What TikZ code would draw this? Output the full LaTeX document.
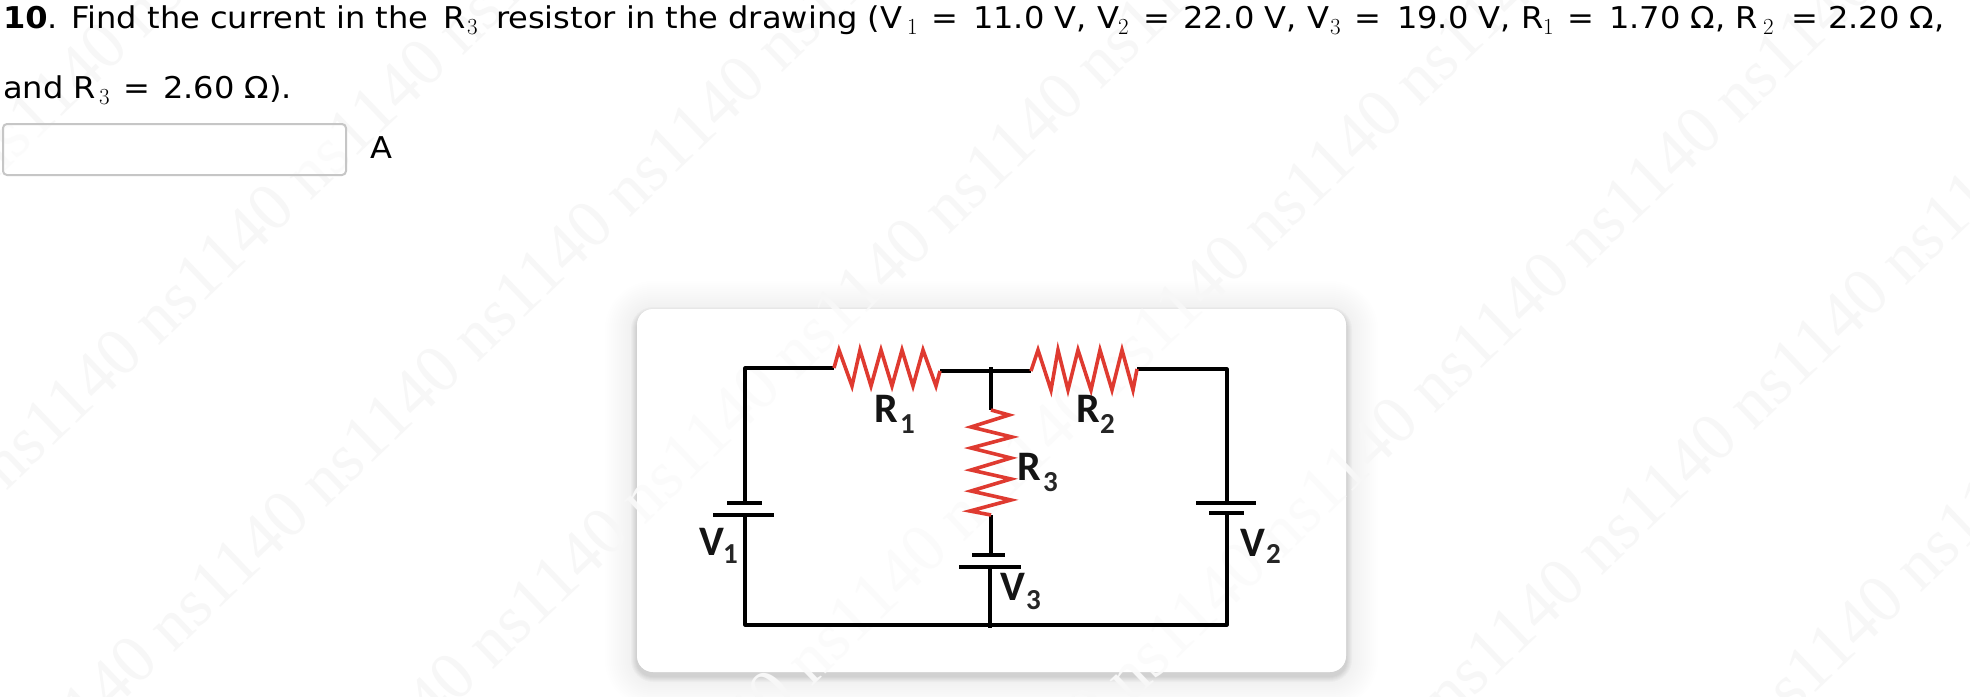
\documentclass[tikz,border=0pt]{standalone}
\usepackage{fontspec}
\newfontfamily\ui{DejaVu Sans}[FakeStretch=1.07]
\newfontfamily\lab{Carlito}[BoldFont={Carlito Bold}]
\newfontfamily\wmf{Liberation Serif}
\definecolor{wmark}{HTML}{F7F7F7}
\definecolor{resred}{HTML}{DF3A30}
\definecolor{boxgray}{HTML}{C6C6C6}
\newcommand{\tseg}[4]{\node[tx] (#1) at (#2,#3) {\ui #4};}
\newcommand{\tsub}[4]{\node[sb] (#1) at (#2,#3) {#4};}
\tikzset{
  tx/.style={anchor=base west,inner sep=0pt,outer sep=0pt,font=\fontsize{30}{36}\selectfont},
  sb/.style={anchor=base west,inner sep=0pt,outer sep=0pt,font=\rmfamily\fontsize{23}{27}\selectfont},
  cmain/.style={anchor=base west,inner sep=0pt,outer sep=0pt,text=black!92,font=\lab\bfseries\fontsize{42}{48}\selectfont},
  csubs/.style={anchor=base west,inner sep=0pt,outer sep=0pt,text=black!85,font=\lab\bfseries\fontsize{29}{33}\selectfont},
  wm/.style={inner sep=0pt,outer sep=0pt,rotate=43.65,text=wmark,font=\wmf\fontsize{68}{72}\selectfont},
  wire/.style={draw=black,line width=3.2pt,line join=round},
  plate/.style={draw=black,line width=3.4pt},
  res/.style={draw=resred,line width=3.6pt,line join=miter,miter limit=6}
}
\begin{document}
\begin{tikzpicture}[x=1pt,y=-1pt]
\useasboundingbox (0,0) rectangle (1970,696);
\fill[white] (0,0) rectangle (1970,696);
% card shadow
\foreach \r in {2,4,...,32}{
  \fill[black,fill opacity=.005,rounded corners={16+\r}] (637-\r,313-\r) rectangle (1346+\r,676+\r);
}
\foreach \r in {1,...,6}{
  \fill[black,fill opacity=.02,rounded corners={16+\r}] (637-\r,313-\r) rectangle (1346+\r,676+\r);
}
\fill[white,rounded corners=16pt] (637,309) rectangle (1346,672);
% watermark
\foreach \a in {-3,...,9}{
  \foreach \b in {-3,...,7}{
    \pgfmathsetmacro{\cx}{213+152*\a+167*\b}
    \pgfmathsetmacro{\cy}{263-145*\a+162*\b}
    \pgfmathparse{(\cx>-110)&&(\cx<2080)&&(\cy>-90)&&(\cy<790)?1:0}
    \ifnum\pgfmathresult=1
      \node[wm] (wm\a\b) at (\cx,\cy) {ns1140};
    \fi
  }
}
% card veil: the watermark shows only faintly through the card
\fill[white,fill opacity=.5,rounded corners=16pt] (637,309) rectangle (1346,672);

% circuit coordinates
\coordinate (tl) at (745,368);
\coordinate (r1a) at (834,368);
\coordinate (r1b) at (940,371);
\coordinate (j) at (991,371);
\coordinate (jt) at (991,367);
\coordinate (r2a) at (1031,371);
\coordinate (r2b) at (1137,369);
\coordinate (tr) at (1227,369);
\coordinate (r3a) at (991,410);
\coordinate (r3b) at (991,515);
\coordinate (v1top) at (745,503);
\coordinate (v1bot) at (745,515);
\coordinate (bl) at (745,625);
\coordinate (v2top) at (1227,503);
\coordinate (v2bot) at (1227,513);
\coordinate (br) at (1227,625);
\coordinate (v3top) at (991,555);
\coordinate (v3bot) at (990,567);
\coordinate (b3) at (990,625);
\coordinate (b3t) at (990,628);

% wires
\draw[wire] (v1top) -- (tl) -- (r1a);
\draw[wire] (r1b) -- (j) -- (r2a);
\draw[wire] (r2b) -- (tr) -- (v2top);
\draw[wire] (jt) -- (r3a);
\draw[wire] (r3b) -- (v3top);
\draw[wire] (v3bot) -- (b3t);
\draw[wire] (v1bot) -- (bl) -- (br) -- (v2bot);

% battery plates
\draw[plate] (727,503) -- (762,503);
\draw[plate] (713,515) -- (774,515);
\draw[plate] (1196,503) -- (1256,503);
\draw[plate] (1209,513) -- (1244,513);
\draw[plate] (972,555) -- (1005,555);
\draw[plate] (959,567) -- (1021,567);

% resistors
\draw[res] (r1a) -- (839,350) -- (852,386) -- (860,350) -- (871,386) -- (881,350) -- (892,386) -- (902,350) -- (913,386) -- (923,350) -- (936,386) -- (r1b);
\draw[res] (r2a) -- (1038,350) -- (1051,390) -- (1058,350) -- (1068,390) -- (1078,350) -- (1091,390) -- (1100,350) -- (1112,390) -- (1122,350) -- (1133,390) -- (r2b);
\draw[res] (r3a) -- (1009,415) -- (971,427) -- (1012,437) -- (971,448) -- (1011,458) -- (971,470) -- (1011,479) -- (971,491) -- (1011,500) -- (970,511) -- (r3b);

% circuit labels
\node[cmain] (lr1) at (874,422) {R};
\node[csubs] (lr1s) at (900,433) {1};
\node[cmain] (lr2) at (1076,422) {R};
\node[csubs] (lr2s) at (1100,433) {2};
\node[cmain] (lr3) at (1017,480) {R};
\node[csubs] (lr3s) at (1043,491) {3};
\node[cmain] (lv1) at (699,555) {V};
\node[csubs] (lv1s) at (723,563) {1};
\node[cmain] (lv2) at (1240,556) {V};
\node[csubs] (lv2s) at (1266,563) {2};
\node[cmain] (lv3) at (1000,600) {V};
\node[csubs] (lv3s) at (1026,609) {3};

% question text, line 1
\tseg{a1}{3}{28}{\textbf{10}. Find the current in the}
\tseg{a1r}{443}{28}{R}
\tsub{a2}{467}{34}{3}
\tseg{a3}{496}{28}{resistor in the drawing (V}
\tsub{a4}{907}{34}{1}
\tseg{a5}{931}{28}{=}
\tseg{a6}{973}{28}{11.0 V, V}
\tsub{a7}{1118}{34}{2}
\tseg{a8}{1143}{28}{=}
\tseg{a9}{1183}{28}{22.0 V, V}
\tsub{a10}{1330}{34}{3}
\tseg{a11}{1354}{28}{=}
\tseg{a12}{1397}{28}{19.0 V, R}
\tsub{a13}{1543}{34}{1}
\tseg{a14}{1567}{28}{=}
\tseg{a15}{1609}{28}{1.70 Ω, R}
\tsub{a16}{1763}{34}{2}
\tseg{a17}{1791}{28}{=}
\tseg{a18}{1828}{28}{2.20 Ω,}
% line 2
\tseg{b1}{3}{98}{and R}
\tsub{b2}{99}{104}{3}
\tseg{b3}{123}{98}{=}
\tseg{b4}{163}{98}{2.60 Ω).}

% answer box
\draw[boxgray,line width=2pt,fill=white,fill opacity=.6,rounded corners=4pt] (3,124) rectangle (346,175);
\tseg{unit}{370}{158}{A}
\end{tikzpicture}
\end{document}
